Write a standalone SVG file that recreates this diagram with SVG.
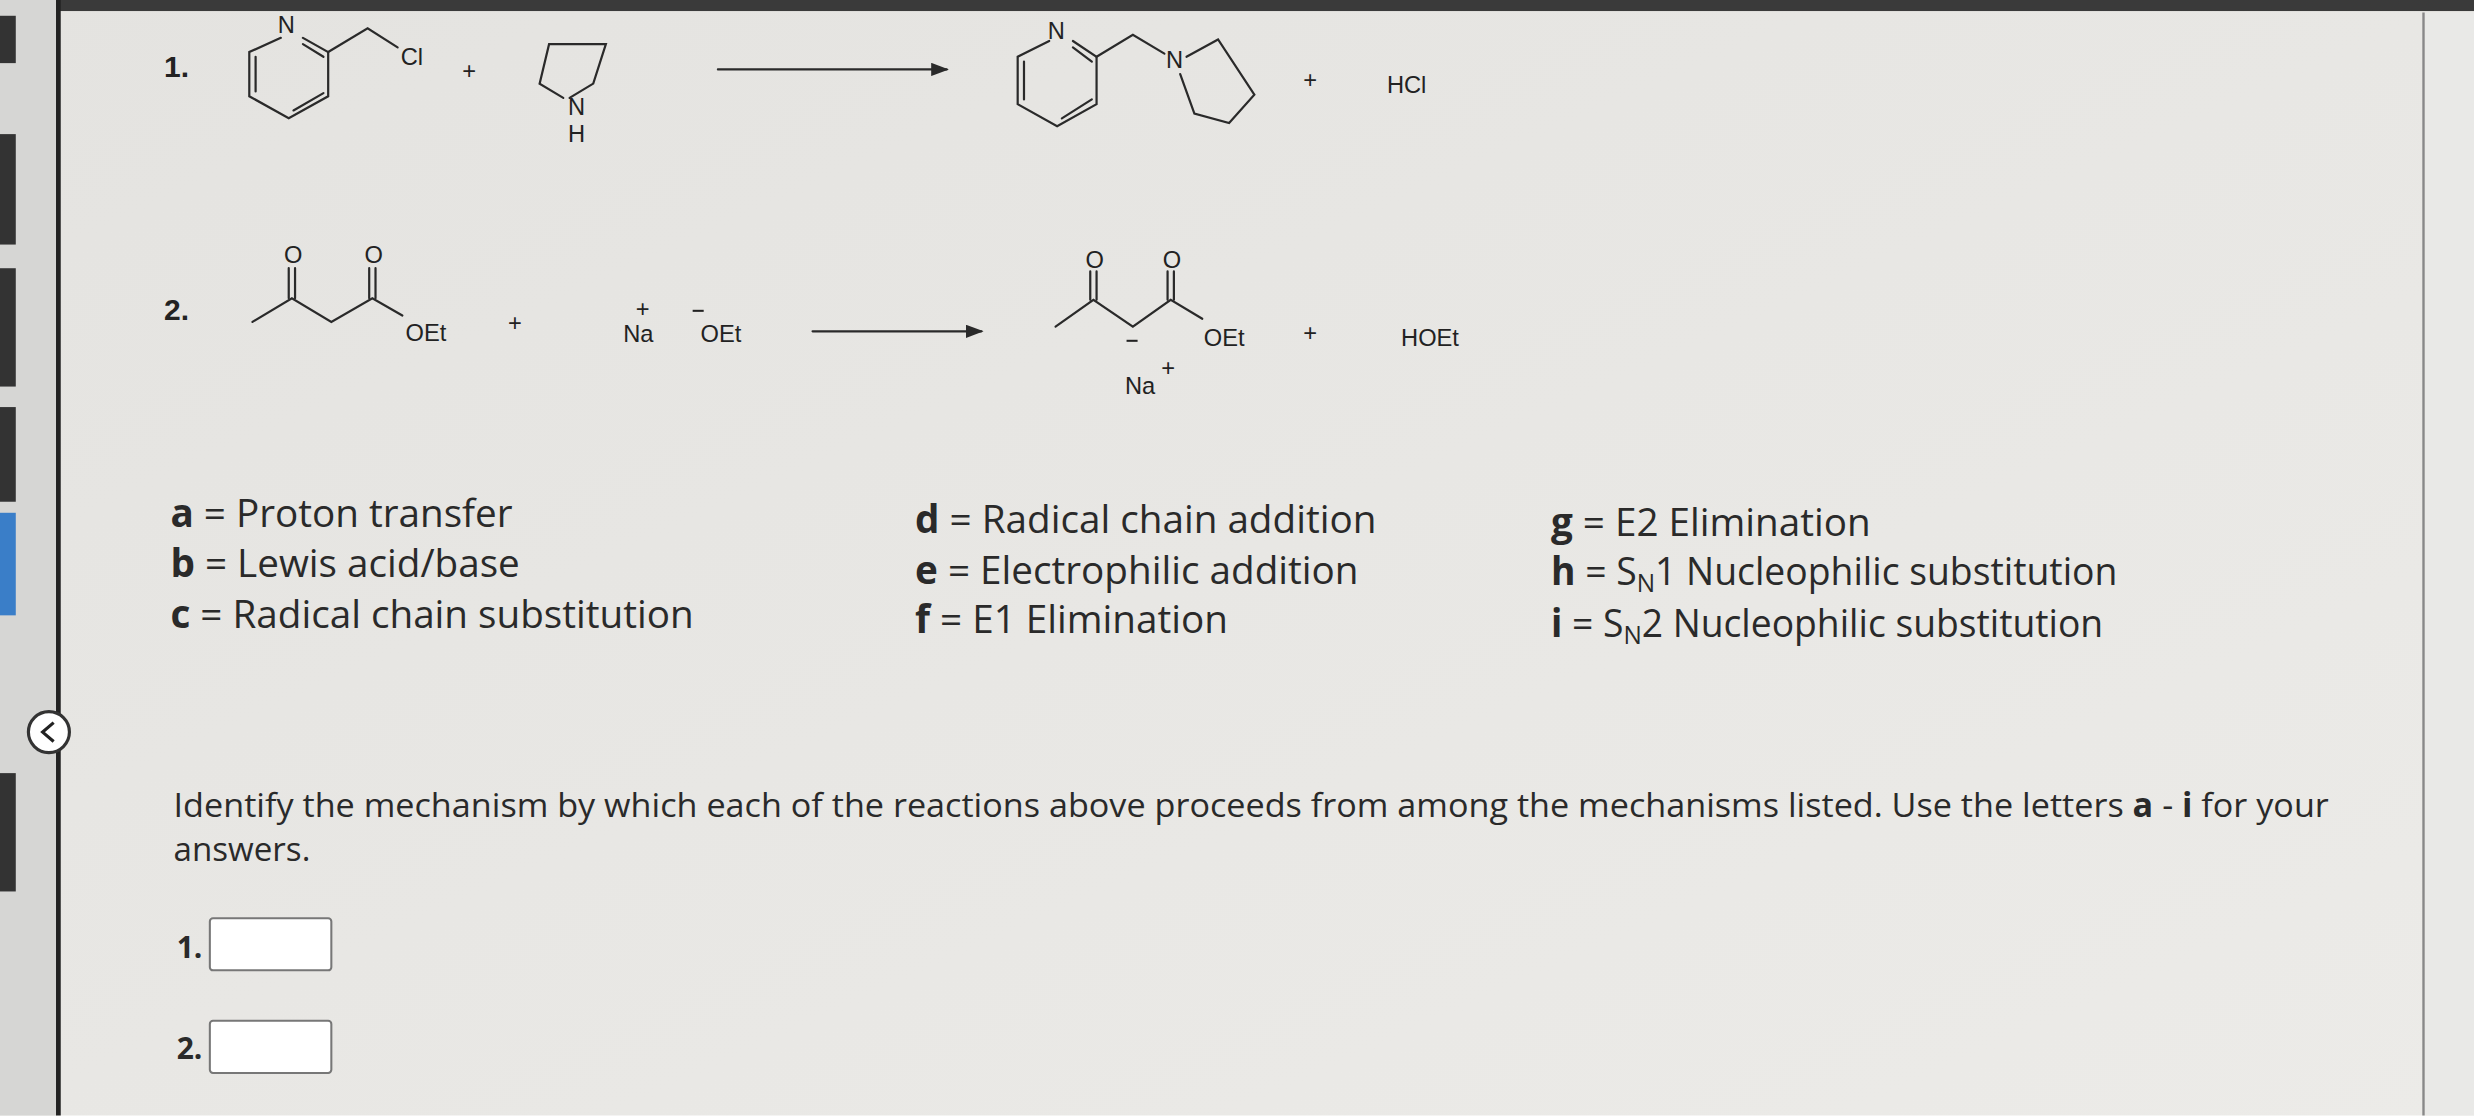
<svg xmlns="http://www.w3.org/2000/svg" width="2474" height="1116" viewBox="0 0 2474 1116">
<defs>
<style>
.b{stroke:#2a2a2a;stroke-width:1.4;fill:none;stroke-linecap:round}
.ch{font-family:"Liberation Sans",Arial,sans-serif;font-size:15px;fill:#222}
.lg{font-family:"Open Sans","Noto Sans",sans-serif;font-size:24.5px;fill:#2a2a2a}
.qs{font-family:"Open Sans","Noto Sans",sans-serif;font-size:21px;fill:#2a2a2a}
.bd{font-weight:bold}
</style>
<linearGradient id="bg" x1="0" y1="0" x2="1" y2="1"><stop offset="0" stop-color="#e4e3e0"/><stop offset="1" stop-color="#ecebe8"/></linearGradient>
<marker id="ah" markerWidth="8" markerHeight="6" refX="7" refY="3" orient="auto"><path d="M0,0 L8,3 L0,6 z" fill="#2a2a2a"/></marker>
</defs>
<g transform="scale(1.5778)">
<rect width="1568" height="707" fill="url(#bg)"/>
<rect x="0" y="0" width="1568" height="7" fill="#3a3a3a"/>
<rect x="0" y="0" width="36" height="707" fill="#d6d6d4"/>
<rect x="0" y="10" width="10" height="30" fill="#333"/>
<rect x="0" y="85" width="10" height="70" fill="#333"/>
<rect x="0" y="170" width="10" height="75" fill="#333"/>
<rect x="0" y="258" width="10" height="60" fill="#333"/>
<rect x="0" y="325" width="10" height="65" fill="#3a7ec8"/>
<rect x="0" y="490" width="10" height="75" fill="#333"/>
<line x1="37" y1="0" x2="37" y2="707" stroke="#222" stroke-width="3"/>
<line x1="1536" y1="8" x2="1536" y2="707" stroke="#888" stroke-width="1.5"/>
<rect x="1537" y="8" width="31" height="699" fill="#e9e9e7"/>
<g id="navbtn"><circle cx="31" cy="464" r="13" fill="#fff" stroke="#333" stroke-width="2"/><path d="M34,458 L27,464 L34,470" fill="none" stroke="#222" stroke-width="2"/></g>

<g id="r1">
<text x="104" y="49" class="ch bd" style="font-size:19px">1.</text>
<g id="r1-pyridine">
<path class="b" d="M178,24 L158,33 L158,61 L183,75 L208,61 L208,33 L192,24"/>
<path class="b" d="M162,36 L162,58 M186,70 L205,59 M205,36 L192,28"/>
<text x="176" y="21" class="ch">N</text>
<path class="b" d="M208,33 L233,18 L252,30"/>
<text x="254" y="41" class="ch">Cl</text>
</g>
<text x="293" y="50" class="ch">+</text>
<g id="r1-pyrrolidine">
<path class="b" d="M361,62 L376,53 L384,28 L348,28 L342,53 L357,62"/>
<text x="360" y="73" class="ch">N</text>
<text x="360" y="90" class="ch">H</text>
</g>
<line class="b" x1="455" y1="44" x2="600" y2="44" marker-end="url(#ah)"/>
<g id="r1-product">
<path class="b" d="M665,26 L645,36 L645,66 L670,80 L695,66 L695,36 L680,26"/>
<path class="b" d="M649,39 L649,63 M673,75 L692,63 M692,39 L680,30"/>
<text x="664" y="25" class="ch">N</text>
<path class="b" d="M695,36 L718,22 L738,34"/>
<text x="739" y="43" class="ch">N</text>
<path class="b" d="M752,36 L772,25 L795,60 L779,78 L757,72 L748,47"/>
</g>
<text x="826" y="56" class="ch">+</text>
<text x="879" y="59" class="ch">HCl</text>
</g>

<g id="r2">
<text x="104" y="203" class="ch bd" style="font-size:19px">2.</text>
<g id="r2-reactant">
<path class="b" d="M160,204 L185,189 L210,204 L236,189 L255,200"/>
<path class="b" d="M183,189 L183,170 M187,189 L187,170 M234,189 L234,170 M238,189 L238,170"/>
<text x="180" y="167" class="ch">O</text>
<text x="231" y="167" class="ch">O</text>
<text x="257" y="216" class="ch">OEt</text>
</g>
<text x="322" y="210" class="ch">+</text>
<text x="395" y="217" class="ch">Na</text>
<text x="403" y="201" class="ch">+</text>
<line x1="439" y1="197" x2="446" y2="197" stroke="#222" stroke-width="1.3"/>
<text x="444" y="217" class="ch">OEt</text>
<line class="b" x1="515" y1="210" x2="622" y2="210" marker-end="url(#ah)"/>
<g id="r2-product">
<path class="b" d="M669,207 L693,190 L718,207 L742,190 L762,202"/>
<path class="b" d="M691,190 L691,172 M695,190 L695,172 M740,190 L740,172 M744,190 L744,172"/>
<text x="688" y="170" class="ch">O</text>
<text x="737" y="170" class="ch">O</text>
<line x1="714" y1="216" x2="721" y2="216" stroke="#222" stroke-width="1.3"/>
<text x="763" y="219" class="ch">OEt</text>
<text x="713" y="250" class="ch">Na</text>
<text x="736" y="238" class="ch">+</text>
</g>
<text x="826" y="216" class="ch">+</text>
<text x="888" y="219" class="ch">HOEt</text>
</g>

<g id="legend">
<text x="108" y="334" class="lg"><tspan class="bd">a</tspan> = Proton transfer</text>
<text x="108" y="366" class="lg"><tspan class="bd">b</tspan> = Lewis acid/base</text>
<text x="108" y="398" class="lg"><tspan class="bd">c</tspan> = Radical chain substitution</text>
<text x="580" y="338" class="lg"><tspan class="bd">d</tspan> = Radical chain addition</text>
<text x="580" y="370" class="lg"><tspan class="bd">e</tspan> = Electrophilic addition</text>
<text x="580" y="401" class="lg"><tspan class="bd">f</tspan> = E1 Elimination</text>
<text x="983" y="340" class="lg"><tspan class="bd">g</tspan> = E2 Elimination</text>
<text x="983" y="371" class="lg" textLength="359" lengthAdjust="spacingAndGlyphs"><tspan class="bd">h</tspan> = S<tspan dy="4" font-size="16">N</tspan><tspan dy="-4">1 Nucleophilic substitution</tspan></text>
<text x="983" y="404" class="lg" textLength="350" lengthAdjust="spacingAndGlyphs"><tspan class="bd">i</tspan> = S<tspan dy="4" font-size="16">N</tspan><tspan dy="-4">2 Nucleophilic substitution</tspan></text>
</g>

<g id="question">
<text x="110" y="518" class="qs" textLength="1366" lengthAdjust="spacingAndGlyphs">Identify the mechanism by which each of the reactions above proceeds from among the mechanisms listed. Use the letters <tspan class="bd">a</tspan> - <tspan class="bd">i</tspan> for your</text>
<text x="110" y="546" class="qs">answers.</text>
</g>
<g id="answer1"><text x="112" y="607" class="qs bd" style="font-size:19px">1.</text><rect x="133" y="582" width="77" height="33" rx="2" fill="#fff" stroke="#777" stroke-width="1.3"/></g>
<g id="answer2"><text x="112" y="671" class="qs bd" style="font-size:19px">2.</text><rect x="133" y="647" width="77" height="33" rx="2" fill="#fff" stroke="#777" stroke-width="1.3"/></g>
</g>
</svg>
